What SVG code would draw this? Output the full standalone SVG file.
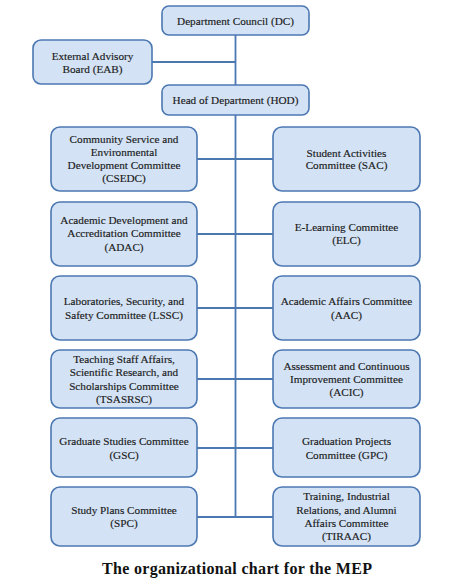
<svg xmlns="http://www.w3.org/2000/svg" width="474" height="587" viewBox="0 0 474 587">
<style>
.box{fill:#d3e2f4;stroke:#4c78b2;stroke-width:1.6}
.t{font-family:"Liberation Serif","DejaVu Serif",serif;font-size:11.2px;fill:#1a1a1a;stroke:#1a1a1a;stroke-width:0.15;text-anchor:middle}
.ln{stroke:#4c78b2;stroke-width:1.8;fill:none}
.cap{font-family:"Liberation Serif","DejaVu Serif",serif;font-size:16px;font-weight:bold;fill:#111;text-anchor:middle}
</style>
<rect width="474" height="587" fill="#fff"/>
<g id="connectors">
<path class="ln" d="M235.5 35V85M152 62H235.5M235.5 115V517"/>
<path class="ln" d="M197 159H273M197 234H273M197 308H273M197 379H273M197 448H273M197 517H273"/>
</g>
<g id="dc"><rect class="box" x="162" y="6" width="147" height="29" rx="7"/><text class="t" x="235.5" y="25">Department Council (DC)</text></g>
<g id="eab"><rect class="box" x="33" y="40" width="119" height="44" rx="8"/><text class="t" x="92.5" y="59.5">External Advisory</text><text class="t" x="92.5" y="72.5">Board (EAB)</text></g>
<g id="hod"><rect class="box" x="162" y="85" width="147" height="30" rx="7"/><text class="t" x="235.5" y="104">Head of Department (HOD)</text></g>

<g id="csedc"><rect class="box" x="51" y="127" width="146" height="64" rx="9"/>
<text class="t" x="124" y="142.5">Community Service and</text><text class="t" x="124" y="155.8">Environmental</text><text class="t" x="124" y="169">Development Committee</text><text class="t" x="124" y="182.2">(CSEDC)</text></g>
<g id="sac"><rect class="box" x="273" y="127" width="147" height="64" rx="9"/>
<text class="t" x="346.5" y="156.8">Student Activities</text><text class="t" x="346.5" y="169.2">Committee (SAC)</text></g>

<g id="adac"><rect class="box" x="51" y="202" width="146" height="64" rx="9"/>
<text class="t" x="124" y="223.5">Academic Development and</text><text class="t" x="124" y="237">Accreditation Committee</text><text class="t" x="124" y="250.5">(ADAC)</text></g>
<g id="elc"><rect class="box" x="273" y="202" width="147" height="64" rx="9"/>
<text class="t" x="346.5" y="230.8">E-Learning Committee</text><text class="t" x="346.5" y="244.2">(ELC)</text></g>

<g id="lssc"><rect class="box" x="51" y="276" width="146" height="64" rx="9"/>
<text class="t" x="124" y="305.2">Laboratories, Security, and</text><text class="t" x="124" y="318.5">Safety Committee (LSSC)</text></g>
<g id="aac"><rect class="box" x="273" y="276" width="147" height="64" rx="9"/>
<text class="t" x="346.5" y="305.2">Academic Affairs Committee</text><text class="t" x="346.5" y="318.5">(AAC)</text></g>

<g id="tsasrsc"><rect class="box" x="51" y="350" width="146" height="58" rx="9"/>
<text class="t" x="124" y="362.8">Teaching Staff Affairs,</text><text class="t" x="124" y="376.2">Scientific Research, and</text><text class="t" x="124" y="389.5">Scholarships Committee</text><text class="t" x="124" y="402.5">(TSASRSC)</text></g>
<g id="acic"><rect class="box" x="273" y="350" width="147" height="58" rx="9"/>
<text class="t" x="346.5" y="369.5">Assessment and Continuous</text><text class="t" x="346.5" y="382.8">Improvement Committee</text><text class="t" x="346.5" y="396.2">(ACIC)</text></g>

<g id="gsc"><rect class="box" x="51" y="418" width="146" height="59" rx="9"/>
<text class="t" x="124" y="445.2">Graduate Studies Committee</text><text class="t" x="124" y="458.5">(GSC)</text></g>
<g id="gpc"><rect class="box" x="273" y="418" width="147" height="59" rx="9"/>
<text class="t" x="346.5" y="445.2">Graduation Projects</text><text class="t" x="346.5" y="458.5">Committee (GPC)</text></g>

<g id="spc"><rect class="box" x="51" y="487" width="146" height="59" rx="9"/>
<text class="t" x="124" y="513.5">Study Plans Committee</text><text class="t" x="124" y="526.8">(SPC)</text></g>
<g id="tiraac"><rect class="box" x="273" y="487" width="147" height="59" rx="9"/>
<text class="t" x="346.5" y="500.2">Training, Industrial</text><text class="t" x="346.5" y="513.5">Relations, and Alumni</text><text class="t" x="346.5" y="526.8">Affairs Committee</text><text class="t" x="346.5" y="540.2">(TIRAAC)</text></g>

<text class="cap" x="237" y="574" textLength="270" lengthAdjust="spacing">The organizational chart for the MEP</text>
</svg>
